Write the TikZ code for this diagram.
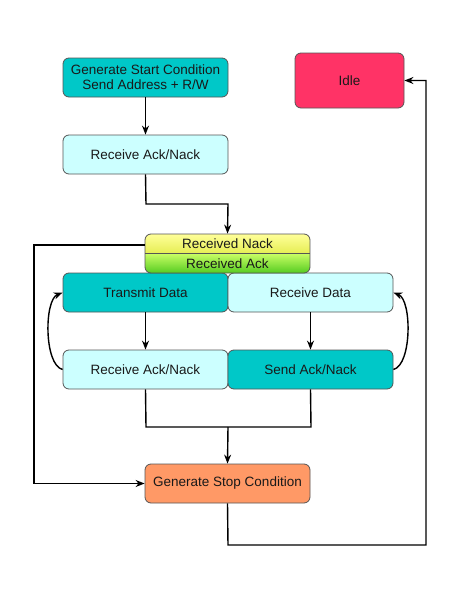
\documentclass[tikz,border=0pt]{standalone}
\usepackage{fontspec}
\setmainfont{Liberation Sans}
\usetikzlibrary{arrows.meta,positioning,calc}
\definecolor{teal1}{HTML}{00C8C8}
\definecolor{lcyan}{HTML}{CCFFFF}
\definecolor{idlec}{HTML}{FF3366}
\definecolor{stopc}{HTML}{FF9966}
\definecolor{bord}{HTML}{555555}
\definecolor{ytop}{HTML}{FFFF99}
\definecolor{ybot}{HTML}{E6EE55}
\definecolor{gtop}{HTML}{CCFF66}
\definecolor{gbot}{HTML}{55CC22}
\begin{document}
\begin{tikzpicture}[x=1pt,y=-1pt,
  box/.style={draw=bord,line width=0.8pt,rounded corners=6pt,minimum width=165pt,minimum height=39pt,inner sep=0pt,align=center,font=\fontsize{13.5}{15}\selectfont,text=black!90},
  con/.style={line width=1.4pt,-{Stealth[length=9pt,width=7pt]}},
  ln/.style={line width=1.4pt}]
\useasboundingbox (0,0) rectangle (474,613);
% top
\node[box,fill=teal1] (start) at (145.5,77.5) {Generate Start Condition\\Send Address + R/W};
\node[box,fill=lcyan] (rack1) at (145.5,154.5) {Receive Ack/Nack};
\node[box,fill=idlec,minimum width=109pt,minimum height=55pt] (idle) at (349.5,80.5) {Idle};
% middle
\node[box,fill=teal1] (tx) at (145.5,292.5) {Transmit Data};
\node[box,fill=lcyan] (rx) at (310.5,292.5) {Receive Data};
\node[box,fill=lcyan] (rack2) at (145.5,369.5) {Receive Ack/Nack};
\node[box,fill=teal1] (sack) at (310.5,369.5) {Send Ack/Nack};
% received nack / ack
\begin{scope}
\clip[rounded corners=6pt] (145,234) rectangle (310,273);
\shade[top color=ytop,bottom color=ybot] (145,234) rectangle (310,253);
\shade[top color=gtop,bottom color=gbot] (145,253) rectangle (310,273);
\end{scope}
\draw[bord,line width=0.8pt] (145,253) -- (310,253);
\node[draw=bord,line width=0.8pt,rounded corners=6pt,minimum width=165pt,minimum height=39pt,inner sep=0pt] (rcv) at (227.5,253.5) {};
\node[font=\fontsize{13.5}{15}\selectfont,text=black!90,inner sep=0pt] (rn) at (227.5,244) {Received Nack};
\node[font=\fontsize{13.5}{15}\selectfont,text=black!90,inner sep=0pt] (ra) at (227.5,263.5) {Received Ack};
% stop
\node[box,fill=stopc] (stop) at (227.5,483.5) {Generate Stop Condition};
% connectors
\draw[con] (start) -- (rack1);
\draw[con] (rack1.south) -- (146,204) -- (228,204) -- (rcv.north);
\draw[con] (tx) -- (rack2);
\draw[con] (rx) -- (sack);
\draw[ln] (rack2.south) -- (146,427) -- (311,427) -- (sack.south);
\coordinate (mid) at (228,427);
\draw[con] (mid) -- (stop.north);
\draw[con] (rcv.west |- 0,245) -- (34,245) -- (34,483.5) -- (stop.west);
\draw[con] (stop.south) -- (228,545) -- (426,545) -- (426,80.5) -- (idle.east);
\draw[con] (rack2.west) .. controls (44,365) and (44,300) .. (tx.west);
\draw[con] (sack.east) .. controls (412,365) and (412,300) .. (rx.east);
\end{tikzpicture}
\end{document}
